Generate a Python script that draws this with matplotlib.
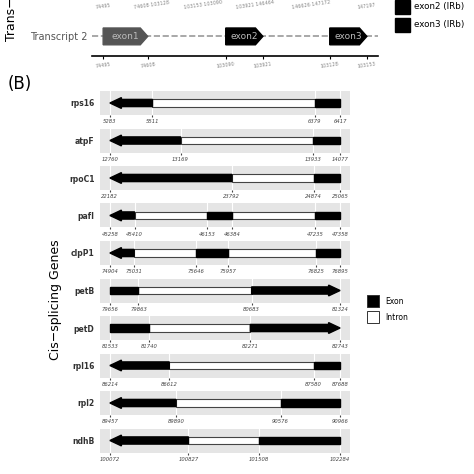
import matplotlib
matplotlib.use('Agg')
import numpy as np
import matplotlib.pyplot as plt
from matplotlib.patches import FancyArrow, Rectangle

genes = ['rps16', 'atpF', 'rpoC1', 'pafI', 'clpP1', 'petB', 'petD', 'rpl16', 'rpl2', 'ndhB']
bounds = [
    [5283, 5511, 6379, 6417],
    [12760, 13169, 13933, 14077],
    [22182, 23792, 24874, 25065],
    [45258, 45410, 46153, 46384, 47235, 47358],
    [74904, 75031, 75646, 75957, 76825, 76895],
    [79656, 79863, 80683, 81324],
    [81533, 81740, 82271, 82743],
    [86214, 86612, 87580, 87688],
    [89457, 89890, 90576, 90966],
    [100072, 100827, 101508, 102284],
]
strand = [-1, -1, -1, -1, -1, 1, 1, -1, -1, -1]

# transcript 2 (trans-splicing, rps12)
t2_exons = ['exon1', 'exon2', 'exon3']
t2_colors = ['#555555', 'black', 'black']
t2_ticks = ['74495', '74608', '103090', '103921', '103128', '103153']
t2_slots = [0, 1.2, 3.3, 4.3, 6.1, 7.1]
t1_ticks = ['74495', '74608 103128', '103153 103090', '103921 146464', '146626 147172', '147197']

W = H = 474
fig = plt.figure(figsize=(4.74, 4.74), dpi=100)


def px(x0, y0, w, h):
    return [x0 / W, 1 - (y0 + h) / H, w / W, h / H]


def scaled(b, min_frac=0.12):
    # compressed scale: every segment keeps at least min_frac of the gene span
    seg = np.diff(b) / (b[-1] - b[0])
    seg = np.maximum(seg, min_frac)
    return np.concatenate([[0], np.cumsum(seg) / seg.sum()])


# ---- top panel (A, cropped) ----
ax = fig.add_axes(px(92, 0, 286, 56))
ax.set_xlim(-0.3, 7.4)
ax.set_ylim(0, 1)
ax.plot([-0.3, 7.4], [0.35, 0.35], ls='--', color='#999999', lw=1.2, zorder=1)
for i, name in enumerate(t2_exons):
    x0, x1 = t2_slots[2 * i], t2_slots[2 * i + 1]
    ax.add_patch(FancyArrow(x0, 0.35, x1 - x0, 0, width=0.3, head_width=0.3,
                            head_length=0.2, length_includes_head=True,
                            color=t2_colors[i], zorder=2))
    ax.text((x0 + x1) / 2, 0.35, name, color='#bbbbbb', fontsize=6.5, ha='center', va='center', zorder=3)
t1_pos = [0, 1.3, 2.7, 4.1, 5.6, 7.1]
for p, s in zip(t1_pos, t1_ticks):
    ax.text(p, 0.84, s, fontsize=3.5, color='#888888', ha='center', rotation=8)
ax.set_xticks(t2_slots)
ax.set_xticklabels(t2_ticks, fontsize=3.5, color='#888888', rotation=8)
ax.tick_params(axis='x', length=2, pad=2)
ax.set_yticks([])
for s in ['top', 'left', 'right']:
    ax.spines[s].set_visible(False)
ax.spines['bottom'].set_linewidth(1.2)
fig.text(88 / W, 1 - 37 / H, 'Transcript 2', fontsize=7, color='#555555', ha='right', va='center')
fig.text(12 / W, 1 - 16 / H, 'Trans\u2212s', fontsize=9, rotation=90, ha='center', va='center')
for i, lab in enumerate(['exon2 (IRb)', 'exon3 (IRb)']):
    y = 7 + 18 * i
    fig.patches.append(Rectangle((395 / W, 1 - (y + 7) / H), 15 / W, 14 / H, color='black',
                                 transform=fig.transFigure, figure=fig))
    fig.text(414 / W, 1 - y / H, lab, fontsize=6.3, va='center')

# ---- panel B ----
fig.text(8 / W, 1 - 84 / H, '(B)', fontsize=12, va='center')
for k, g in enumerate(genes):
    yc = 103 + 37.5 * k
    a = fig.add_axes(px(100, yc - 12, 250, 24))
    b = bounds[k]
    xs = scaled(b)
    a.set_xlim(-0.043, 1.043)
    a.set_ylim(-1, 1)
    a.set_facecolor('#e5e5e5')
    for p in xs:
        a.axvline(p, color='white', lw=0.8, zorder=0)
    n = len(b) - 1
    for j in range(n):
        x0, x1 = xs[j], xs[j + 1]
        if j % 2 == 1:
            a.add_patch(Rectangle((x0, -0.3), x1 - x0, 0.6, facecolor='white',
                                  edgecolor='#444444', lw=0.8, zorder=2))
        else:
            arrow_seg = (strand[k] < 0 and j == 0) or (strand[k] > 0 and j == n - 1)
            if arrow_seg:
                hl = 0.05
                if strand[k] < 0:
                    a.add_patch(FancyArrow(x1, 0, x0 - x1, 0, width=0.6, head_width=0.9,
                                           head_length=hl, length_includes_head=True,
                                           color='black', zorder=3))
                else:
                    a.add_patch(FancyArrow(x0, 0, x1 - x0, 0, width=0.6, head_width=0.9,
                                           head_length=hl, length_includes_head=True,
                                           color='black', zorder=3))
            else:
                a.add_patch(Rectangle((x0, -0.3), x1 - x0, 0.6, color='black', zorder=3))
    a.set_xticks(xs)
    a.set_xticklabels([str(p) for p in b], fontsize=3.8, style='italic', color='#444444')
    a.tick_params(axis='x', length=1.5, pad=1.5, colors='#444444')
    a.set_yticks([0])
    a.set_yticklabels([g], fontsize=5.5, fontweight='bold', color='#333333')
    a.tick_params(axis='y', length=0, pad=4)
    for s in a.spines.values():
        s.set_visible(False)

fig.text(55 / W, 1 - 300 / H, 'Cis\u2212splicing Genes', fontsize=9, rotation=90, ha='center', va='center')
for i, (lab, fc) in enumerate([('Exon', 'black'), ('Intron', 'white')]):
    y = 301 + 16 * i
    fig.patches.append(Rectangle((367 / W, 1 - (y + 6) / H), 12 / W, 12 / H, facecolor=fc,
                                 edgecolor='#333333', lw=0.7, transform=fig.transFigure, figure=fig))
    fig.text(385 / W, 1 - y / H, lab, fontsize=5.5, va='center')

fig.savefig('out.png', dpi=100)
